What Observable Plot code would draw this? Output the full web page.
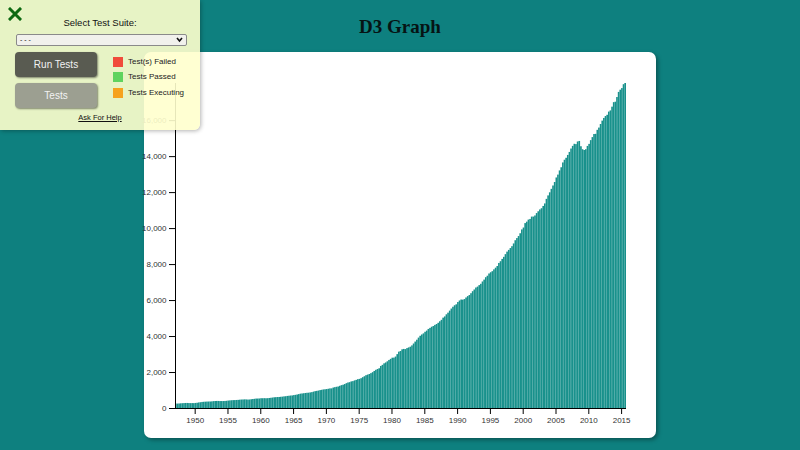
<!DOCTYPE html>
<html>
<head>
<meta charset="utf-8">
<script src="https://cdn.jsdelivr.net/npm/d3@7"></script>
<script src="https://cdn.jsdelivr.net/npm/@observablehq/plot@0.6"></script>
<style>
  html, body { margin: 0; padding: 0; width: 800px; height: 450px; overflow: hidden; background: #0e807f; }
  #title { position: absolute; left: 0; top: 16px; width: 800px; text-align: center; font: bold 19px "Liberation Serif", serif; color: #061414; }
  #card { position: absolute; left: 144px; top: 52px; width: 512px; height: 386px; background: #fff; border-radius: 7px; box-shadow: 2px 2px 4px rgba(0,0,0,0.35); }
  #card svg { position: absolute; left: 0; top: 0; }
  #card svg text { fill: #333; }
  #panel { position: absolute; left: 0; top: 0; width: 200px; height: 130px; background: rgba(255,255,205,0.9); border-bottom-right-radius: 6px; box-shadow: 1px 1px 4px rgba(0,0,0,0.3); font-family: "Liberation Sans", Arial, sans-serif; color: #111; z-index: 5; }
  #panel .abs { position: absolute; }
  .btn { position: absolute; left: 15px; width: 82px; height: 25px; border-radius: 4px; box-shadow: 1px 1px 2px rgba(0,0,0,0.45); color: #f2f2f2; font-size: 10px; line-height: 25px; text-align: center; }
  .sq { position: absolute; left: 113px; width: 10px; height: 10px; }
  .lt { position: absolute; left: 128px; font-size: 8px; line-height: 10px; color: #222; }
</style>
</head>
<body>
<div id="title">D3 Graph</div>
<div id="card"></div>
<div id="panel">
  <svg class="abs" style="left:8px;top:7px" width="14" height="14"><path d="M2,2L12,12M12,2L2,12" stroke="#0d6a12" stroke-width="3" stroke-linecap="square"/></svg>
  <div class="abs" style="left:0;top:17px;width:200px;text-align:center;font-size:9.5px;line-height:12px">Select Test Suite:</div>
  <div class="abs" style="left:16px;top:34px;width:166px;height:10px;border:1px solid #8a8a8a;border-radius:2px;background:#f1f1ec;font-size:7px;line-height:10px;padding-left:3px;box-sizing:content-box">- - -
    <svg class="abs" style="right:3px;top:2px" width="7" height="6"><path d="M1,1L3.5,4L6,1" stroke="#111" stroke-width="1.6" fill="none"/></svg>
  </div>
  <div class="btn" style="top:52px;background:#595b51">Run Tests</div>
  <div class="btn" style="top:83px;background:#9c9f91">Tests</div>
  <div class="sq" style="top:57px;background:#f04b3b"></div>
  <div class="sq" style="top:72px;background:#5fd35f"></div>
  <div class="sq" style="top:88px;background:#f6a21e"></div>
  <div class="lt" style="top:57px">Test(s) Failed</div>
  <div class="lt" style="top:72px">Tests Passed</div>
  <div class="lt" style="top:88px">Tests Executing</div>
  <div class="abs" style="left:0;top:113px;width:200px;text-align:center;font-size:7.5px;line-height:10px;text-decoration:underline">Ask For Help</div>
</div>
<script>
// US GDP (billions of dollars), quarterly, Q1..Q4 per year
const years = [1947,1948,1949,1950,1951,1952,1953,1954,1955,1956,1957,1958,1959,1960,1961,1962,1963,1964,1965,1966,1967,1968,1969,1970,1971,1972,1973,1974,1975,1976,1977,1978,1979,1980,1981,1982,1983,1984,1985,1986,1987,1988,1989,1990,1991,1992,1993,1994,1995,1996,1997,1998,1999,2000,2001,2002,2003,2004,2005,2006,2007,2008,2009,2010,2011,2012,2013,2014,2015];
const quarterMonths = [0, 3, 6, 9];
const gdpByYear = [
  [243.1, 246.3, 250.1, 260.3],
  [266.2, 272.9, 279.5, 280.7],
  [275.4, 271.7, 273.3, 271.0],
  [281.2, 290.7, 308.5, 320.3],
  [336.4, 344.5, 351.8, 356.6],
  [360.2, 361.4, 368.1, 381.2],
  [388.5, 392.3, 391.7, 386.5],
  [385.9, 386.7, 391.6, 400.3],
  [413.8, 422.2, 430.9, 437.8],
  [440.5, 446.8, 452.0, 461.3],
  [470.6, 472.8, 480.3, 475.7],
  [468.4, 472.8, 486.7, 500.4],
  [511.1, 524.2, 525.2, 529.3],
  [543.3, 542.7, 546.0, 541.1],
  [545.9, 557.4, 568.2, 581.6],
  [595.2, 602.6, 609.6, 613.1],
  [622.7, 631.8, 645.0, 654.8],
  [671.1, 680.8, 692.8, 698.4],
  [719.2, 732.4, 750.2, 773.1],
  [797.3, 807.2, 820.8, 834.9],
  [846.0, 851.1, 866.6, 883.2],
  [911.1, 936.3, 952.3, 970.1],
  [995.4, 1011.4, 1032.0, 1040.7],
  [1053.5, 1070.1, 1088.5, 1091.5],
  [1137.8, 1159.4, 1180.3, 1193.6],
  [1233.8, 1270.1, 1293.8, 1332.0],
  [1380.7, 1417.6, 1436.8, 1479.1],
  [1494.7, 1534.2, 1563.4, 1603.0],
  [1619.6, 1656.4, 1713.8, 1765.9],
  [1824.5, 1856.9, 1890.5, 1938.4],
  [1992.5, 2060.2, 2122.4, 2168.7],
  [2208.7, 2336.6, 2398.9, 2482.2],
  [2531.6, 2595.9, 2670.4, 2730.7],
  [2796.5, 2799.9, 2860.0, 2993.5],
  [3131.8, 3167.3, 3261.2, 3283.5],
  [3273.8, 3331.3, 3367.1, 3407.8],
  [3480.3, 3583.8, 3692.3, 3796.1],
  [3912.8, 4015.0, 4087.4, 4147.6],
  [4237.0, 4302.3, 4394.6, 4453.1],
  [4516.3, 4555.2, 4619.6, 4669.4],
  [4736.2, 4821.5, 4900.5, 5022.7],
  [5090.6, 5207.7, 5299.5, 5412.7],
  [5527.4, 5628.4, 5711.6, 5763.4],
  [5890.8, 5974.7, 6029.5, 6023.3],
  [6054.9, 6143.6, 6218.4, 6279.3],
  [6380.8, 6492.3, 6586.5, 6697.6],
  [6748.2, 6829.6, 6904.2, 7032.8],
  [7136.3, 7269.8, 7352.3, 7476.7],
  [7545.3, 7604.9, 7706.5, 7799.5],
  [7893.1, 8061.5, 8159.0, 8287.1],
  [8402.1, 8551.9, 8691.8, 8788.3],
  [8889.7, 8994.7, 9146.5, 9325.7],
  [9447.1, 9557.0, 9712.3, 9926.1],
  [10031.0, 10278.3, 10357.4, 10472.3],
  [10508.1, 10638.4, 10639.5, 10701.3],
  [10834.4, 10934.8, 11037.1, 11103.8],
  [11230.1, 11370.7, 11625.1, 11816.8],
  [11988.4, 12181.4, 12367.7, 12562.2],
  [12813.7, 12974.1, 13205.4, 13381.6],
  [13648.9, 13799.8, 13908.5, 14066.4],
  [14233.2, 14422.3, 14569.7, 14685.3],
  [14668.4, 14813.0, 14843.0, 14549.9],
  [14383.9, 14340.4, 14384.1, 14566.5],
  [14681.1, 14888.6, 15057.7, 15230.2],
  [15238.4, 15460.9, 15587.1, 15785.3],
  [15973.9, 16121.9, 16227.9, 16297.3],
  [16475.4, 16541.4, 16749.3, 16999.9],
  [17025.2, 17285.6, 17569.4, 17692.2],
  [17783.6, 17998.3, 18064.7]
];
const xTickYears = [1950,1955,1960,1965,1970,1975,1980,1985,1990,1995,2000,2005,2010,2015];
const yTicks = [0,2000,4000,6000,8000,10000,12000,14000,16000];

const data = [];
years.forEach((yr, i) => {
  gdpByYear[i].forEach((v, q) => {
    const m = quarterMonths[q];
    data.push({ date: new Date(Date.UTC(yr, m, 1)), end: new Date(Date.UTC(yr, m + 3, 1)), gdp: v });
  });
});
const xMin = data[0].date;
const xMax = data[data.length - 1].end;
const yMax = d3.max(data, d => d.gdp);

const chart = Plot.plot({
  width: 512,
  height: 386,
  marginLeft: 31,
  marginRight: 30,
  marginTop: 31,
  marginBottom: 30,
  style: { fontFamily: "sans-serif", fontSize: "8px", background: "transparent", color: "#000", overflow: "visible" },
  x: { type: "utc", domain: [xMin, xMax], ticks: xTickYears.map(y => new Date(Date.UTC(y, 0, 1))), tickFormat: d3.utcFormat("%Y"), tickSize: 6, tickPadding: 3, label: null },
  y: { domain: [0, yMax], ticks: yTicks, tickFormat: d3.format(","), tickSize: 6, tickPadding: 3, label: null },
  marks: [
    Plot.rect(data, { x1: "date", x2: "end", y1: 0, y2: "gdp", fill: "#19918c", inset: 0 }),
    Plot.ruleY([0], { stroke: "#000" }),
    Plot.ruleX([xMin], { stroke: "#000", y1: 0, y2: yMax })
  ]
});
document.getElementById("card").appendChild(chart);
</script>
</body>
</html>
